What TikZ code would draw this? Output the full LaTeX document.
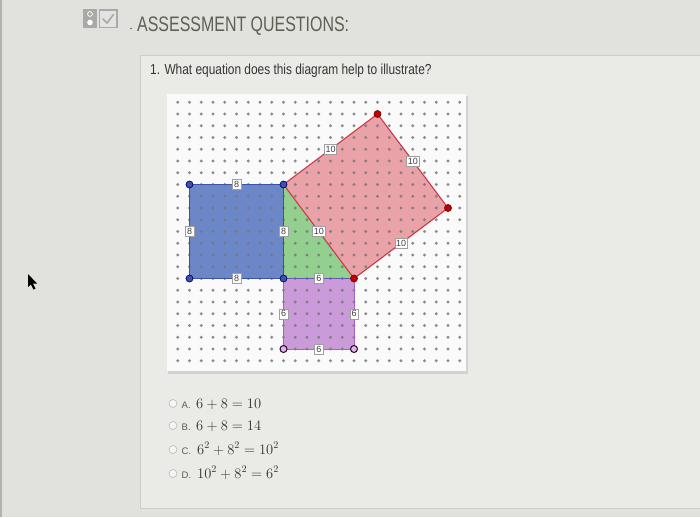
\documentclass[tikz,border=0pt]{standalone}
\usepackage{fix-cm}
\usepackage[no-math]{fontspec}
\newfontfamily\lsans{Liberation Sans}
\definecolor{pagebg}{HTML}{E1E1DE}
\definecolor{cardbg}{HTML}{EAEAE7}
\definecolor{cardline}{HTML}{CDCDC9}
\definecolor{hdr}{HTML}{5C6152}
\definecolor{qtext}{HTML}{353535}
\definecolor{bluefill}{HTML}{6C87C8}
\definecolor{blueline}{HTML}{3B52A6}
\definecolor{greenfill}{HTML}{93CF8E}
\definecolor{redfill}{HTML}{E9A2A8}
\definecolor{redline}{HTML}{C93A46}
\definecolor{purpfill}{HTML}{CB9BD9}
\definecolor{purpline}{HTML}{A066BA}
\definecolor{dotc}{HTML}{777777}
\definecolor{iconc}{HTML}{A9A9A7}
\begin{document}
\begin{tikzpicture}[x=1pt,y=-1pt,
  lbl/.style={draw=gray!75, fill=white, inner sep=1.1pt, minimum height=10pt, minimum width=8.5pt, font=\lsans\fontsize{9}{10}\selectfont, text=black!75},
  bpt/.style={circle, draw=blue!45!black, fill=blueline, line width=0.7pt, inner sep=0pt, minimum size=7pt},
  rpt/.style={circle, draw=red!50!black, fill=red!75!black, line width=0.7pt, inner sep=0pt, minimum size=7pt},
  ppt/.style={circle, draw=violet!35!black, fill=purpfill!70!white, line width=1pt, inner sep=0pt, minimum size=7pt},
  optc/.style={circle, draw=gray!55, fill=white!92!gray, line width=0.6pt, inner sep=0pt, minimum size=8pt},
  optl/.style={anchor=base west, inner sep=0pt, font=\lsans\fontsize{9.5}{11}\selectfont, text=black!65},
  optm/.style={anchor=base west, inner sep=0pt, font=\fontsize{14.5}{16}\selectfont, text=black!80}]
\useasboundingbox (0,0) rectangle (700,517);
\fill[pagebg] (0,0) rectangle (700,517);
\fill[gray!60] (0,0) rectangle (2,517);
\fill[cardbg] (140,55) rectangle (700,508);
\draw[cardline, line width=0.8pt] (700,55) -- (140,55) -- (140,508) -- (700,508);
% icon
\fill[iconc] (83,9) rectangle (97,28);
\draw[white, line width=0.8pt] (90,14) circle (2.4pt);
\fill[white] (90,22.5) circle (2.8pt);
\draw[iconc, fill=gray!22, line width=1.2pt] (99.5,10) rectangle (117,27.5);
\draw[iconc, line width=1.6pt, line cap=round, line join=round] (103,19) -- (107,23) -- (113.5,14.5);
\fill[hdr] (131,28.5) circle (0.9pt);
\node[anchor=base west, inner sep=0pt, text=hdr, font=\lsans\fontsize{21}{24}\selectfont] (title) at (137,31) {\scalebox{0.76}[1]{ASSESSMENT QUESTIONS:}};
\node[anchor=base west, inner sep=0pt, text=qtext, font=\lsans\fontsize{14.5}{16}\selectfont] (quest) at (150,74) {\scalebox{0.82}[1]{1. What equation does this diagram help to illustrate?}};
% frame
\fill[gray!35] (168,96) rectangle (468,373.5);
\fill[white!96!gray] (167,94) rectangle (466,371);
\begin{scope}[shift={(283.5,278.5)}, x=11.75pt, y=11.75pt]
  \coordinate (O) at (0,0);
  \coordinate (BL) at (-8,0);
  \coordinate (TL) at (-8,8);
  \coordinate (A) at (0,8);
  \coordinate (B) at (6,0);
  \coordinate (C) at (14,6);
  \coordinate (D) at (8,14);
  \coordinate (PL) at (0,-6);
  \coordinate (PR) at (6,-6);
  \fill[bluefill] (BL) rectangle (A);
  \fill[greenfill] (O) -- (A) -- (B) -- cycle;
  \fill[redfill] (A) -- (B) -- (C) -- (D) -- cycle;
  \fill[purpfill] (PL) rectangle (B);
  \foreach \i in {-9,...,15} \foreach \j in {-7,...,15} \fill[dotc, opacity=0.85] (\i,\j) circle (1.6pt);
  \draw[blueline, line width=1.1pt] (BL) rectangle (A);
  \draw[purpline, line width=1pt] (O) -- (PL) -- (PR) -- (B);
  \draw[blueline!60!purpline, line width=1pt] (O) -- (B);
  \draw[redline, line width=1.1pt] (A) -- (B) -- (C) -- (D) -- cycle;
  % labels
  \node[lbl] (b1) at (-4,8) {8};
  \node[lbl] (b2) at (-8,4) {8};
  \node[lbl] (b3) at (0,4) {8};
  \node[lbl] (b4) at (-4,0) {8};
  \node[lbl] (r1) at (4,11) {10};
  \node[lbl] (r2) at (11,10) {10};
  \node[lbl] (r3) at (3,4) {10};
  \node[lbl] (r4) at (10,3) {10};
  \node[lbl] (p1) at (3,0) {6};
  \node[lbl] (p2) at (0,-3) {6};
  \node[lbl] (p3) at (6,-3) {6};
  \node[lbl] (p4) at (3,-6) {6};
  % vertices
  \node[bpt] (vTL) at (TL) {};
  \node[bpt] (vA) at (A) {};
  \node[bpt] (vBL) at (BL) {};
  \node[bpt] (vO) at (O) {};
  \node[rpt] (vB) at (B) {};
  \node[rpt] (vC) at (C) {};
  \node[rpt] (vD) at (D) {};
  \node[ppt] (vPL) at (PL) {};
  \node[ppt] (vPR) at (PR) {};
\end{scope}
% options
\node[optc] (oa) at (173,403.5) {};
\node[optc] (ob) at (173,425.5) {};
\node[optc] (oc) at (173,449.5) {};
\node[optc] (od) at (173,473.5) {};
\node[optl] (la) at (181.5,408) {A.};
\node[optl] (lb) at (181.5,430) {B.};
\node[optl] (lc) at (181.5,454) {C.};
\node[optl] (ld) at (181.5,478) {D.};
\node[optm] (ma) at (196,408) {$6+8=10$};
\node[optm] (mb) at (196,430) {$6+8=14$};
\node[optm] (mc) at (197,454) {$6^2+8^2=10^2$};
\node[optm] (md) at (197,478) {$10^2+8^2=6^2$};
% cursor
\fill[black] (28,274) -- (28,287) -- (31,284.5) -- (33.5,289.5) -- (35.5,288.5) -- (33,283.5) -- (37,283.5) -- cycle;
\end{tikzpicture}
\end{document}
